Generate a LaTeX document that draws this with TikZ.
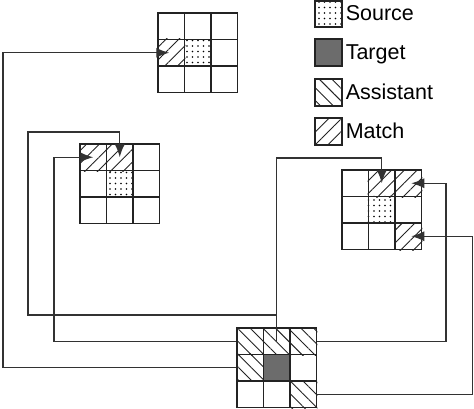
\documentclass[tikz,border=0pt]{standalone}
\usepackage{fontspec}
\setmainfont{Liberation Sans}
\usetikzlibrary{arrows.meta,patterns.meta,positioning}
\definecolor{GridInk}{RGB}{35,35,35}
\definecolor{LinkInk}{RGB}{50,50,50}
\definecolor{TargetGray}{RGB}{108,108,108}
\pgfdeclarelayer{bg}
\pgfsetlayers{bg,main}

\begin{document}
\begin{tikzpicture}[
  x=1pt,y=-1pt,
  cell/.style={draw=GridInk,line width=1.6pt,minimum size=26.5pt,inner sep=0pt},
  match/.style={pattern={Lines[angle=45,distance=9pt,line width=0.9pt]},pattern color=GridInk},
  assist/.style={pattern={Lines[angle=-45,distance=9pt,line width=0.9pt]},pattern color=GridInk},
  source/.style={pattern={Dots[distance=5.5pt,radius=0.8pt]},pattern color=black},
  target/.style={fill=TargetGray},
  link/.style={draw=LinkInk,line width=1.4pt},
  arr/.style={link,-{Latex[length=13pt,width=10pt]}},
  lbl/.style={anchor=base west,inner sep=0pt,font=\fontsize{21.5}{24}\selectfont}
]
\useasboundingbox (0,0) rectangle (474,409);

% the four 3x3 grids
\foreach \g/\gx/\gy in {src/158/13,lft/80/144,rgt/342/170,tgt/237/328}
  \foreach \r in {1,2,3}
    \foreach \c in {1,2,3}
      \node[cell] (\g-\r-\c) at ({\gx+26.5*(\c-0.5)},{\gy+26.5*(\r-0.5)}) {};

% cell fillings, behind the grid lines
\begin{pgfonlayer}{bg}
  \foreach \n/\s in {src-2-1/match,src-2-2/source,
                     lft-1-1/match,lft-1-2/match,lft-2-2/source,
                     rgt-1-2/match,rgt-1-3/match,rgt-2-2/source,rgt-3-3/match,
                     tgt-1-1/assist,tgt-1-2/assist,tgt-1-3/assist,tgt-2-1/assist,
                     tgt-2-2/target,tgt-3-3/assist}
    \path[\s] (\n.south west) rectangle (\n.north east);
\end{pgfonlayer}

% legend
\node[cell,source] (keySrc) at (328.5,14) {};
\node[cell,target] (keyTgt) at (328.5,52.5) {};
\node[cell,assist] (keyAst) at (328.5,92.5) {};
\node[cell,match] (keyMat) at (328.5,131.5) {};
\node[lbl] (txtSrc) at ([xshift=3pt,yshift=-7pt]keySrc.east) {Source};
\node[lbl] (txtTgt) at ([xshift=3pt,yshift=-7pt]keyTgt.east) {Target};
\node[lbl] (txtAst) at ([xshift=3pt,yshift=-7pt]keyAst.east) {Assistant};
\node[lbl] (txtMat) at ([xshift=3pt,yshift=-7pt]keyMat.east) {Match};

% turning columns and rows of the connectors
\coordinate (colA) at (3,0);
\coordinate (colB) at (54,0);
\coordinate (colC) at (28,0);
\coordinate (rowC) at (0,315);
\coordinate (topC) at (0,132);
\coordinate (topD) at (0,158);
\coordinate (colE) at (446,0);
\coordinate (colF) at (472.5,0);

\draw[arr,shorten >=2pt] (tgt-2-1.west) -- (colA |- tgt-2-1.west) |- (src-2-1.center);
\draw[arr] (tgt-1-1.west) -- (colB |- tgt-1-1.west) |- (lft-1-1.center);
\draw[arr] (tgt-1-2.center) -- (tgt-1-2.center |- rowC) -| (colC |- topC) -| (lft-1-2.center);
\draw[arr] (tgt-1-2.center) -- (tgt-1-2.center |- topD) -| (rgt-1-2.center);
\draw[arr,shorten >=3pt] (tgt-1-3.east) -- (colE |- tgt-1-3.east) |- (rgt-1-3.center);
\draw[arr,shorten >=3pt] (tgt-3-3.east) -- (colF |- tgt-3-3.east) |- (rgt-3-3.center);
\end{tikzpicture}
\end{document}
